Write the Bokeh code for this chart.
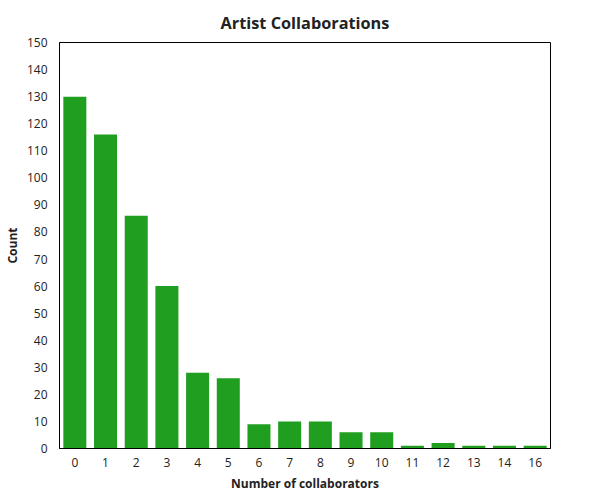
from bokeh.plotting import figure
from bokeh.models import FixedTicker, Range1d, FactorRange
from bokeh.embed import file_html
from bokeh.resources import INLINE

categories = ["0", "1", "2", "3", "4", "5", "6", "7", "8", "9", "10", "11", "12", "13", "14", "16"]
counts = [130, 116, 86, 60, 28, 26, 9, 10, 10, 6, 6, 1, 2, 1, 1, 1]
y_ticks = list(range(0, 151, 10))

FONT = "Open Sans"

p = figure(frame_width=491, frame_height=406, x_range=FactorRange(*categories, range_padding=0),
           y_range=Range1d(0, 150), output_backend="svg", toolbar_location=None,
           title="Artist Collaborations",
           min_border_left=51, min_border_right=30, min_border_top=10, min_border_bottom=30)

p.vbar(x=categories, top=counts, width=0.75, color="#1f9e1f", line_color=None)

p.title.align = "center"
p.title.text_font = FONT
p.title.text_font_size = "16.3px"
p.title.text_font_style = "bold"
p.title.text_color = "#222222"
p.title.standoff = 18

p.xgrid.visible = False
p.ygrid.visible = False
p.outline_line_color = "black"
p.outline_line_alpha = 1.0

p.yaxis.ticker = FixedTicker(ticks=y_ticks)
for ax in (p.xaxis, p.yaxis):
    ax.major_tick_line_color = None
    ax.minor_tick_line_color = None
    ax.axis_line_color = "black"
    ax.major_label_text_font = FONT
    ax.major_label_text_font_size = "12px"
    ax.major_label_text_color = "#222222"
    ax.axis_label_text_font = FONT
    ax.axis_label_text_font_size = "12px"
    ax.axis_label_text_font_style = "bold"
    ax.axis_label_text_color = "#222222"

p.xaxis.axis_label = "Number of collaborators"
p.yaxis.axis_label = "Count"
p.xaxis.major_label_standoff = 3
p.yaxis.major_label_standoff = 6
p.yaxis.axis_label_standoff = 3

open("out.html", "w").write(file_html(p, INLINE))
